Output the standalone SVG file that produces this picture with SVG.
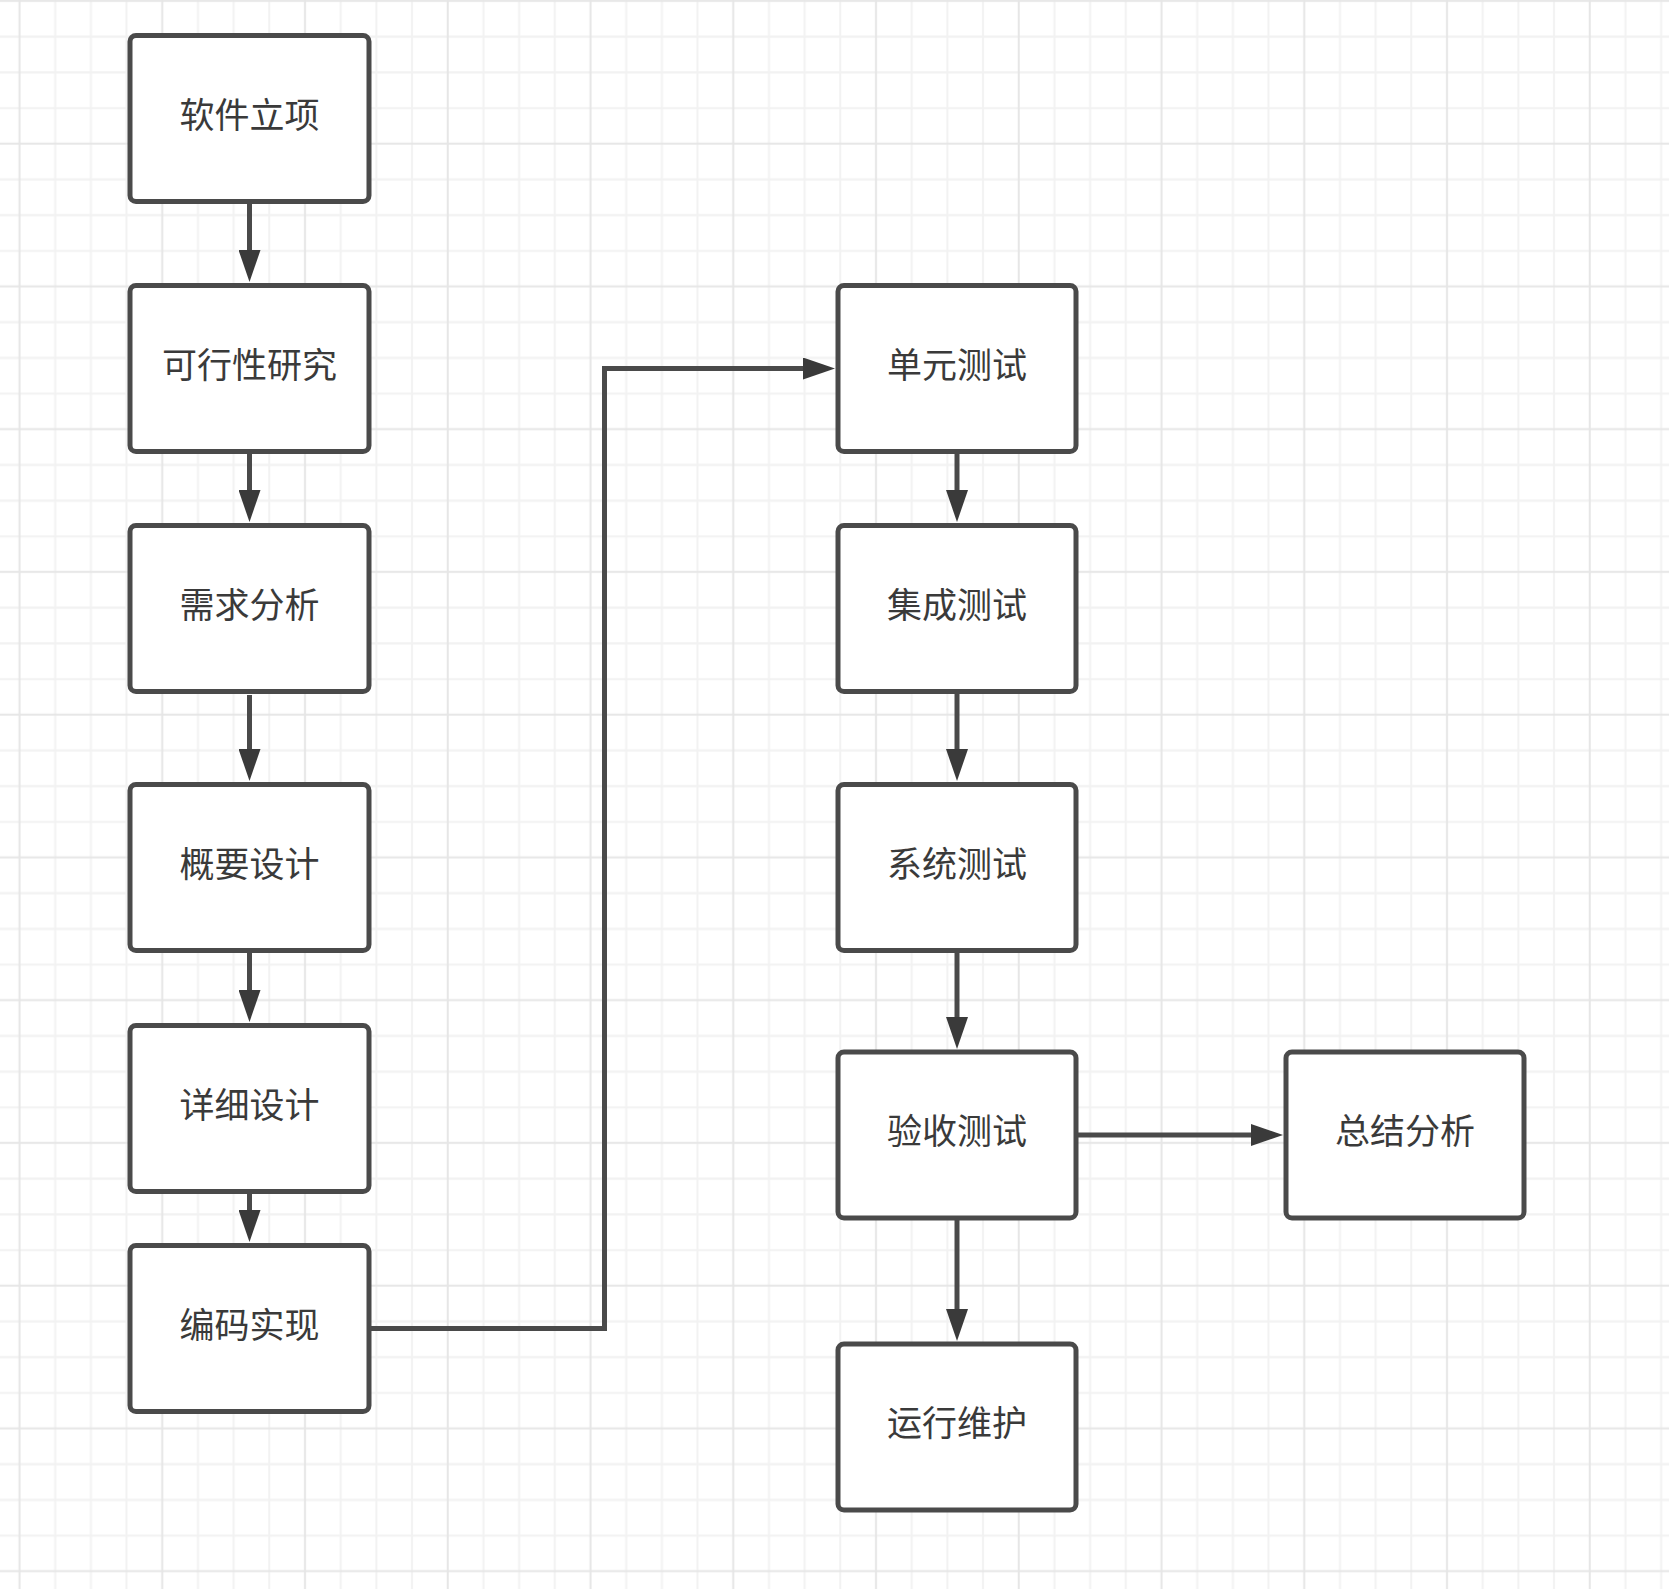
<svg xmlns="http://www.w3.org/2000/svg" width="1669" height="1589" viewBox="0 0 1669 1589">
<style>
.box{fill:#ffffff;stroke:#4a4a4a;stroke-width:5}
.lbl{font-family:"Noto Sans CJK SC","Noto Sans",sans-serif;font-size:35px;fill:#3a3a3a;text-anchor:middle;dominant-baseline:central}
.edge{fill:none;stroke:#4a4a4a;stroke-width:5}
</style>
<defs>
<pattern id="grid" patternUnits="userSpaceOnUse" x="1.66" y="-16.84" width="142.75" height="142.75">
<path d="M53.53,0V142.75M89.22,0V142.75M124.91,0V142.75M0,53.53H142.75M0,89.22H142.75M0,124.91H142.75" stroke="#f2f2f2" stroke-width="2" fill="none"/>
<path d="M17.84,0V142.75M0,17.84H142.75" stroke="#e6e6e6" stroke-width="2" fill="none"/>
</pattern>
<marker id="arr" markerUnits="userSpaceOnUse" markerWidth="32" markerHeight="22" viewBox="0 0 32 22" refX="12" refY="11" orient="auto">
<path d="M0,0L32,11L0,22z" fill="#3a3a3a"/>
</marker>
</defs>
<rect width="1669" height="1589" fill="#ffffff"/>
<rect width="1669" height="1589" fill="url(#grid)"/>
<g id="connectors">
<path class="edge" d="M249.5,204V262" marker-end="url(#arr)"/>
<path class="edge" d="M249.5,454V502" marker-end="url(#arr)"/>
<path class="edge" d="M249.5,695V761" marker-end="url(#arr)"/>
<path class="edge" d="M249.5,953V1002" marker-end="url(#arr)"/>
<path class="edge" d="M249.5,1194V1222" marker-end="url(#arr)"/>
<path class="edge" d="M371,1328.5H604.5V368.5H815" marker-end="url(#arr)"/>
<path class="edge" d="M957,454V502" marker-end="url(#arr)"/>
<path class="edge" d="M957,694V761" marker-end="url(#arr)"/>
<path class="edge" d="M957,953V1029" marker-end="url(#arr)"/>
<path class="edge" d="M957,1220V1321" marker-end="url(#arr)"/>
<path class="edge" d="M1078,1135H1263" marker-end="url(#arr)"/>
</g>
<g id="n1"><rect class="box" x="130" y="35.5" width="239" height="166" rx="6"/><text class="lbl" x="249.5" y="112">软件立项</text></g>
<g id="n2"><rect class="box" x="130" y="285.5" width="239" height="166" rx="6"/><text class="lbl" x="249.5" y="362">可行性研究</text></g>
<g id="n3"><rect class="box" x="130" y="525.5" width="239" height="166" rx="6"/><text class="lbl" x="249.5" y="602">需求分析</text></g>
<g id="n4"><rect class="box" x="130" y="784.5" width="239" height="166" rx="6"/><text class="lbl" x="249.5" y="861">概要设计</text></g>
<g id="n5"><rect class="box" x="130" y="1025.5" width="239" height="166" rx="6"/><text class="lbl" x="249.5" y="1102">详细设计</text></g>
<g id="n6"><rect class="box" x="130" y="1245.5" width="239" height="166" rx="6"/><text class="lbl" x="249.5" y="1322">编码实现</text></g>
<g id="n7"><rect class="box" x="838" y="285.5" width="238" height="166" rx="6"/><text class="lbl" x="957" y="362">单元测试</text></g>
<g id="n8"><rect class="box" x="838" y="525.5" width="238" height="166" rx="6"/><text class="lbl" x="957" y="602">集成测试</text></g>
<g id="n9"><rect class="box" x="838" y="784.5" width="238" height="166" rx="6"/><text class="lbl" x="957" y="861">系统测试</text></g>
<g id="n10"><rect class="box" x="838" y="1052" width="238" height="166" rx="6"/><text class="lbl" x="957" y="1128">验收测试</text></g>
<g id="n11"><rect class="box" x="838" y="1344" width="238" height="166" rx="6"/><text class="lbl" x="957" y="1420">运行维护</text></g>
<g id="n12"><rect class="box" x="1286" y="1052" width="238" height="166" rx="6"/><text class="lbl" x="1405" y="1128">总结分析</text></g>
</svg>
